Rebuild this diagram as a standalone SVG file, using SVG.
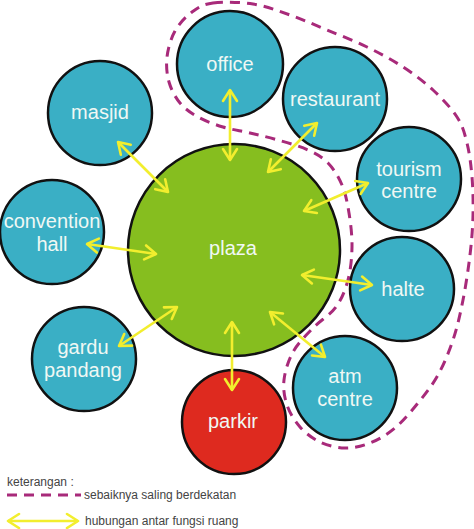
<svg xmlns="http://www.w3.org/2000/svg" width="474" height="529" viewBox="0 0 474 529">
<style>
  .bg{fill:#ffffff}
  .node circle{stroke:#111111;stroke-width:2.5}
  .teal{fill:#3aafc5}
  .green{fill:#86be1f}
  .red{fill:#de2a1f}
  .lbl{font-family:"Liberation Sans",Arial,sans-serif;font-size:20px;fill:#f0f8f4;text-anchor:middle}
  .zone{fill:none;stroke:#a82a7a;stroke-width:3;stroke-dasharray:10 7}
  .link{fill:none;stroke:#f2ee2e;stroke-width:2.6;marker-start:url(#ah);marker-end:url(#ah)}
  .legend{font-family:"Liberation Sans",Arial,sans-serif;font-size:12px;fill:#444444}
</style>
<defs>
  <marker id="ah" markerUnits="userSpaceOnUse" viewBox="-14 -10 17 20" refX="0" refY="0" markerWidth="17" markerHeight="20" orient="auto-start-reverse">
    <path d="M-11,-7 L0,0 L-11,7" fill="none" stroke="#f2ee2e" stroke-width="2.6" stroke-linecap="round" stroke-linejoin="round"/>
  </marker>
</defs>
<rect class="bg" x="0" y="0" width="474" height="529"/>

<g id="zone-dekat">
  <path class="zone" d="M213,3 C223.2,1.7 240.2,2 253,4 S277.7,10.7 290,15 S314.2,24.7 327,30 S354.3,40.8 367,47 S392,59.8 403,67 S424,81.7 433,90 S451.3,108.2 457,117 S464.5,133 467,143 S471,165 472,177 S473.3,202 473,215 S471.7,240.8 470,255 S465.8,285.8 463,300 S457.2,327.5 453,340 S443.8,364.5 438,375 S425.2,394.2 418,403 S403,421.3 395,428 S378.3,439.7 370,443 S353.3,448.2 345,448 S327.5,445.5 320,442 S305.5,433.2 300,427 S289.7,412.8 287,405 S283,388.8 284,380 S288.2,360.7 293,352 S305.8,335.5 313,328 S330.2,315 336,307 S345.3,290 348,280 S351.8,258.2 352,247 S350.7,223.3 349,213 S345.5,193.3 342,185 S333.7,168.8 328,163 S316.3,153.8 308,150 S287.7,142.8 278,140 S259.2,135.2 250,133 S231.7,129.7 223,127 S205.2,121 198,117 S184.8,108.8 180,103 S171.2,89.7 169,82 S166,65.5 167,57 S170.8,38.5 175,31 S185.7,16.7 192,12 S202.8,4.3 213,3 Z"/>
</g>

<g id="plaza" class="node">
  <circle class="green" cx="234" cy="250" r="106"/>
  <text class="lbl" x="233" y="255">plaza</text>
</g>
<g id="office" class="node">
  <circle class="teal" cx="230" cy="64" r="53"/>
  <text class="lbl" x="230" y="71">office</text>
</g>
<g id="restaurant" class="node">
  <circle class="teal" cx="335" cy="99" r="52"/>
  <text class="lbl" x="335" y="106">restaurant</text>
</g>
<g id="masjid" class="node">
  <circle class="teal" cx="100" cy="113" r="52"/>
  <text class="lbl" x="100" y="119">masjid</text>
</g>
<g id="tourism-centre" class="node">
  <circle class="teal" cx="409" cy="179" r="52"/>
  <text class="lbl" x="409" y="176">tourism</text>
  <text class="lbl" x="409" y="198">centre</text>
</g>
<g id="convention-hall" class="node">
  <circle class="teal" cx="52" cy="232" r="52"/>
  <text class="lbl" x="52" y="228">convention</text>
  <text class="lbl" x="52" y="251">hall</text>
</g>
<g id="halte" class="node">
  <circle class="teal" cx="402" cy="289" r="52"/>
  <text class="lbl" x="403" y="296">halte</text>
</g>
<g id="gardu-pandang" class="node">
  <circle class="teal" cx="84" cy="359" r="52"/>
  <text class="lbl" x="83" y="354">gardu</text>
  <text class="lbl" x="83" y="377">pandang</text>
</g>
<g id="parkir" class="node">
  <circle class="red" cx="234" cy="422" r="52"/>
  <text class="lbl" x="233" y="428">parkir</text>
</g>
<g id="atm-centre" class="node">
  <circle class="teal" cx="345" cy="388" r="52"/>
  <text class="lbl" x="345" y="383">atm</text>
  <text class="lbl" x="345" y="406">centre</text>
</g>

<g id="connectors">
  <line class="link" x1="230" y1="90" x2="230" y2="160"/>
  <line class="link" x1="317" y1="123" x2="268" y2="172"/>
  <line class="link" x1="118" y1="142" x2="168" y2="192"/>
  <line class="link" x1="368" y1="183" x2="304" y2="211"/>
  <line class="link" x1="87" y1="244" x2="156" y2="254"/>
  <line class="link" x1="302" y1="275" x2="372" y2="285"/>
  <line class="link" x1="177" y1="307" x2="119" y2="346"/>
  <line class="link" x1="232" y1="322" x2="232" y2="390"/>
  <line class="link" x1="270" y1="312" x2="325" y2="357"/>
</g>

<g id="legend">
  <text class="legend" x="7" y="486">keterangan :</text>
  <line class="zone" x1="7" y1="495" x2="81" y2="495"/>
  <text class="legend" x="84" y="499">sebaiknya saling berdekatan</text>
  <line class="link" x1="8" y1="521" x2="78" y2="521"/>
  <text class="legend" x="85" y="525">hubungan antar fungsi ruang</text>
</g>
</svg>
